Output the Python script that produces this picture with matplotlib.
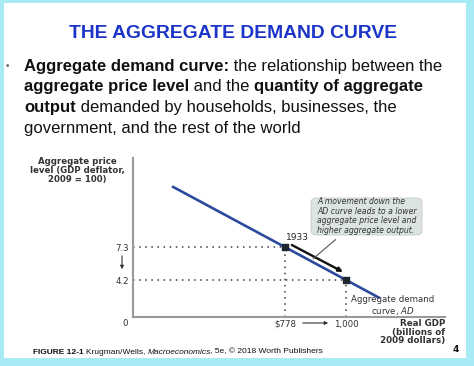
import matplotlib.pyplot as plt
from matplotlib.patches import FancyBboxPatch, Rectangle, FancyArrowPatch

W, H = 474, 366

# chart data
real_gdp = [778, 1000]
price_level = [7.3, 4.2]
gdp_labels = ["$778", "1,000"]
price_labels = ["7.3", "4.2"]
point_year = "1933"
ad_x = [367, 1123]
ad_y = [13.0, 2.5]

title = "THE AGGREGATE DEMAND CURVE"
bullet_lines = [
    [("Aggregate demand curve:", "bold"), (" the relationship between the", "normal")],
    [("aggregate price level", "bold"), (" and the ", "normal"), ("quantity of aggregate", "bold")],
    [("output", "bold"), (" demanded by households, businesses, the", "normal")],
    [("government, and the rest of the world", "normal")],
]

fig = plt.figure(figsize=(W / 100, H / 100), dpi=100)
fig.patch.set_facecolor("#a9ebf4")


def px(x, y):
    return x / W, 1 - y / H


# white slide area
fig.patches.append(Rectangle(px(4, 358), 462 / W, 355 / H, transform=fig.transFigure,
                             facecolor="white", edgecolor="none", zorder=-5))

fig.text(*px(233, 33), title, ha="center", va="center", fontsize=13.9,
         fontweight="bold", color="#1c35c8", family="Liberation Sans")

fig.text(*px(7, 66), "•", ha="center", va="center", fontsize=7, color="#666666",
         family="Liberation Sans")

renderer = fig.canvas.get_renderer()
y0 = 66
for line in bullet_lines:
    x = 24
    for seg, weight in line:
        t = fig.text(*px(x, y0), seg, ha="left", va="center", fontsize=12.0,
                     fontweight=weight, color="#111111", family="Liberation Sans")
        x += t.get_window_extent(renderer).width
    y0 += 20.7

# chart axes
ax = fig.add_axes([133 / W, 1 - 317 / H, 312 / W, 159 / H])
ax.patch.set_alpha(0)
ax.set_xlim(225, 1360)
ax.set_ylim(0.73, 15.66)
for s in ["top", "right"]:
    ax.spines[s].set_visible(False)
for s in ["left", "bottom"]:
    ax.spines[s].set_color("#9a9a9a")
    ax.spines[s].set_linewidth(1.5)

ax.plot(ad_x, ad_y, color="#2b4a9c", lw=1.9, solid_capstyle="butt", zorder=3)

for gx, py in zip(real_gdp, price_level):
    ax.plot([225, gx], [py, py], color="#3a3a3a", lw=1.1, ls=(0, (1, 3)), zorder=2)
    ax.plot([gx, gx], [0.73, py], color="#3a3a3a", lw=1.1, ls=(0, (1, 3)), zorder=2)
ax.scatter(real_gdp, price_level, s=24, marker="s", color="#1e2430", zorder=5)

ax.set_xticks(real_gdp, gdp_labels)
ax.set_yticks(price_level, price_labels)
ax.tick_params(length=0, labelsize=6.2, colors="#333333", pad=3)
ax.tick_params(axis="x", pad=2)

ax.text(real_gdp[0] + 5, price_level[0] + 0.5, point_year, ha="left", va="bottom",
        fontsize=6.5, color="#222222")

# movement arrow
ax.annotate("", xy=(989, 4.96), xytext=(803, 7.49),
            arrowprops=dict(arrowstyle="-|>", color="#111111", lw=1.7,
                            mutation_scale=6, shrinkA=0, shrinkB=0))

# callout leader
ax.annotate("", xy=(880, 6.2), xytext=(962, 8.0),
            arrowprops=dict(arrowstyle="-", color="#555555", lw=0.8,
                            shrinkA=0, shrinkB=0))
box = FancyBboxPatch(px(311, 235), 111 / W, 37 / H, transform=fig.transFigure,
                     boxstyle="round,pad=0,rounding_size=0.012",
                     facecolor="#dbe4e0", edgecolor="#c4ccc8", lw=0.6, zorder=2)
fig.patches.append(box)
fig.text(*px(317, 216), "A movement down the\nAD curve leads to a lower\n"
         "aggregate price level and\nhigher aggregate output.",
         ha="left", va="center", fontsize=5.6, style="italic", color="#333333",
         linespacing=1.05, zorder=4)

fig.text(*px(393, 306), "Aggregate demand\ncurve, $\\it{AD}$", ha="center", va="center",
         fontsize=6.2, color="#333333", linespacing=1.05)

# axis labels
fig.text(*px(77, 170), "Aggregate price\nlevel (GDP deflator,\n2009 = 100)",
         ha="center", va="center", fontsize=6.2, fontweight="bold",
         color="#333333", linespacing=1.0)
fig.text(*px(445, 332), "Real GDP\n(billions of\n2009 dollars)", ha="right",
         va="center", fontsize=6.3, fontweight="bold", color="#333333",
         linespacing=1.0)
fig.text(*px(125, 323), "0", ha="center", va="center", fontsize=6.2, color="#333333")

# small arrows between tick values
fig.patches.append(FancyArrowPatch(
    px(122, 253), px(122, 272), transform=fig.transFigure, arrowstyle="-|>",
    mutation_scale=5, color="#333333", lw=0.8))
fig.patches.append(FancyArrowPatch(
    px(300, 323), px(331, 323), transform=fig.transFigure, arrowstyle="-|>",
    mutation_scale=5, color="#333333", lw=0.8))

# footer
x = 33
for seg, kw, adj in [("FIGURE 12-1 ", dict(fontweight="bold"), 0),
                     ("Krugman/Wells, ", {}, 0),
                     ("Macroeconomics", dict(style="italic"), -1.5),
                     (", 5e, © 2018 Worth Publishers", {}, 0)]:
    t = fig.text(*px(x, 352), seg, ha="left", va="center", fontsize=6.05,
                 color="#111111", family="Liberation Sans", **kw)
    x += t.get_window_extent(renderer).width + adj
fig.text(*px(456, 350), "4", ha="center", va="center", fontsize=6.5,
         fontweight="bold", color="#111111")

fig.savefig("out.png", dpi=100)
